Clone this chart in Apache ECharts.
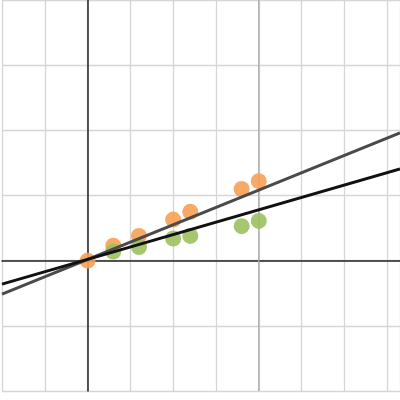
<!DOCTYPE html>
<html>
<head>
<meta charset="utf-8">
<script src="https://cdn.jsdelivr.net/npm/echarts@6/dist/echarts.min.js"></script>
<style>html,body{margin:0;padding:0;background:#fff}#c{width:400px;height:400px}</style>
</head>
<body>
<div id="c"></div>
<script>
// point data
const xs = [0, 0.6, 1.2, 2.0, 2.4, 3.6, 4.0];
const orangeY = [0, 0.23, 0.38, 0.63, 0.75, 1.10, 1.22];
const greenX = [0.6, 1.2, 2.0, 2.4, 3.6, 4.0];
const greenY = [0.14, 0.21, 0.34, 0.38, 0.53, 0.61];
// fitted lines: [slope, intercept]
const grayLine = [0.266, 0.02];
const blackLine = [0.19, 0.02];
const lineX = [-2, 7.3];

let chart = echarts.init(document.getElementById('c'));
const lineData = (l) => lineX.map((x) => [x, l[0] * x + l[1]]);

chart.setOption({
  animation: false,
  grid: {left: 2, right: 0, top: 0, bottom: 9},
  xAxis: {
    type: 'value', min: -2, max: 7.3, interval: 1,
    axisLine: {onZero: true, lineStyle: {color: '#222', width: 1.5}},
    axisTick: {show: false}, axisLabel: {show: false},
    splitLine: {lineStyle: {color: '#d6d6d6', width: 1.3}},
  },
  yAxis: {
    type: 'value', min: -2, max: 4, interval: 1,
    axisLine: {onZero: true, lineStyle: {color: '#222', width: 1.5}},
    axisTick: {show: false}, axisLabel: {show: false},
    splitLine: {lineStyle: {color: '#d6d6d6', width: 1.3}},
  },
  series: [
    {
      type: 'line', data: [[4, -2], [4, 4]], symbol: 'none', silent: true,
      lineStyle: {color: '#aaa', width: 1.3}, z: 1,
    },
    {
      type: 'scatter', data: xs.map((x, i) => [x, orangeY[i]]),
      symbolSize: 16, itemStyle: {color: '#f7a055', opacity: 0.9}, z: 2,
    },
    {
      type: 'scatter', data: greenX.map((x, i) => [x, greenY[i]]),
      symbolSize: 16, itemStyle: {color: '#9cc060', opacity: 0.9}, z: 2,
    },
    {
      type: 'line', data: lineData(grayLine), symbol: 'none',
      lineStyle: {color: '#4a4a4a', width: 3}, z: 3,
    },
    {
      type: 'line', data: lineData(blackLine), symbol: 'none',
      lineStyle: {color: '#111', width: 3}, z: 3,
    },
  ],
});
</script>
</body>
</html>
